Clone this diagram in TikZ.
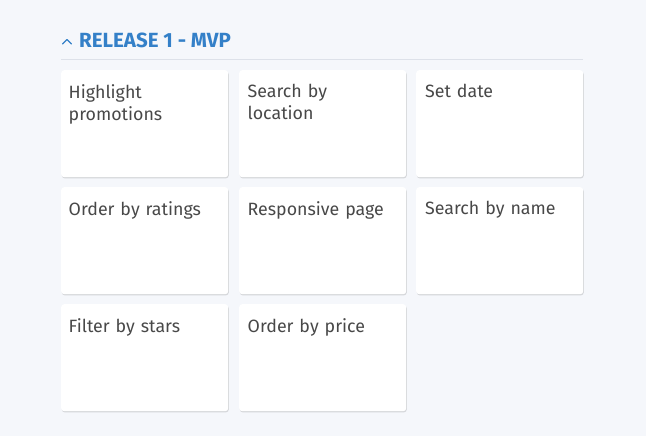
\documentclass[tikz,border=0pt]{standalone}
\usepackage{fontspec}
\setmainfont{Fira Sans}
\usetikzlibrary{shadows}

\definecolor{pagebg}{HTML}{F5F7FB}
\definecolor{titleblue}{HTML}{3480C8}
\definecolor{rulegray}{HTML}{DDE1E9}
\definecolor{cardtext}{HTML}{484848}

\tikzset{
    card/.style={draw=none, fill=white, rounded corners=3pt, minimum width=167pt, minimum height=107pt,
        inner sep=0pt, anchor=north west,
        drop shadow={shadow xshift=0.6pt, shadow yshift=-1.2pt, opacity=0.22, fill=black!60}},
    cardlabel/.style={anchor=north west, inner sep=0pt, text width=155pt, align=left,
        font=\fontsize{17.8}{22}\selectfont, text=cardtext}
}

\begin{document}
\begin{tikzpicture}[x=1pt, y=-1pt]

    % background
    \fill[pagebg] (0,0) rectangle (646,436);
    \useasboundingbox (0,0) rectangle (646,436);

    % header
    \draw[titleblue, line width=1.3pt, line cap=round, line join=round] (62.5,44) -- (67,39.5) -- (71.5,44);
    \node[anchor=base west, inner sep=0pt, text=titleblue, font=\fontsize{20.5}{24}\bfseries\selectfont] (title) at (79,48) {RELEASE 1 - MVP};
    \draw[rulegray, line width=1pt] (61,59.5) -- (583,59.5);

    % these are the cards
    \node[card] (c1) at (61,70) {};
    \node[card] (c2) at (239,70) {};
    \node[card] (c3) at (416,70) {};
    \node[card] (c4) at (61,187) {};
    \node[card] (c5) at (239,187) {};
    \node[card] (c6) at (416,187) {};
    \node[card] (c7) at (61,304) {};
    \node[card] (c8) at (239,304) {};

    % card texts
    \node[cardlabel] (t1) at ([shift={(7.5,14)}]c1.north west) {Highlight\\promotions};
    \node[cardlabel] (t2) at ([shift={(8.5,14)}]c2.north west) {Search by\\location};
    \node[cardlabel] (t3) at ([shift={(9,14)}]c3.north west) {Set date};
    \node[cardlabel] (t4) at ([shift={(7.5,14)}]c4.north west) {Order by ratings};
    \node[cardlabel] (t5) at ([shift={(8.5,14)}]c5.north west) {Responsive page};
    \node[cardlabel] (t6) at ([shift={(9,14)}]c6.north west) {Search by name};
    \node[cardlabel] (t7) at ([shift={(7.5,14)}]c7.north west) {Filter by stars};
    \node[cardlabel] (t8) at ([shift={(8.5,14)}]c8.north west) {Order by price};

\end{tikzpicture}
\end{document}
